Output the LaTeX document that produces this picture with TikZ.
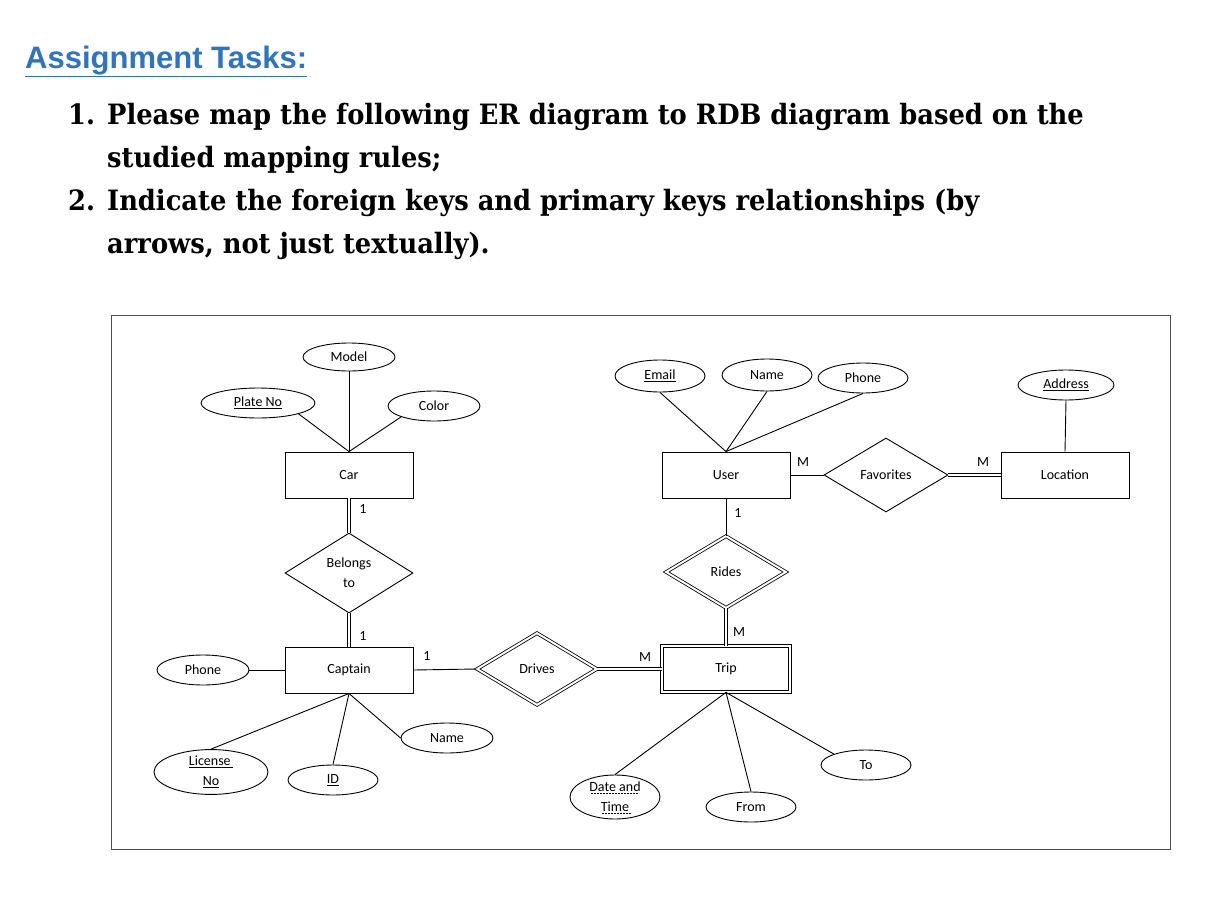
\documentclass[tikz,border=0pt]{standalone}
\usepackage{fontspec}
\setmainfont{Carlito}
\newfontfamily\hdr{Liberation Sans}
\newfontfamily\task{DejaVu Serif}[FakeStretch=0.92]
\usetikzlibrary{shapes.geometric}
\definecolor{hblue}{HTML}{2E74C4}
\begin{document}
\begin{tikzpicture}[x=1pt,y=-1pt,
  ent/.style={draw,line width=0.9pt,minimum width=128pt,minimum height=46pt,font=\fontsize{14}{16}\selectfont},
  att/.style={draw,ellipse,line width=0.9pt,inner sep=0pt,font=\fontsize{14}{16}\selectfont},
  rel/.style={draw,diamond,aspect=1.65,line width=0.9pt,inner sep=0pt,font=\fontsize{14}{16}\selectfont},
  dbl/.style={double,double distance=2pt,line width=0.8pt},
  ln/.style={line width=0.9pt},
  dsh/.style={line width=0.6pt,dash pattern=on 2pt off 1pt},
  card/.style={font=\fontsize{14}{16}\selectfont,inner sep=0pt},
  tl/.style={anchor=base west,inner sep=0pt,font=\task\bfseries\fontsize{28}{34}\selectfont}]
\useasboundingbox (0,0) rectangle (1224,910);
\node[anchor=base west,inner sep=0pt,text=hblue,font=\hdr\bfseries\fontsize{31}{34}\selectfont] (h) at (25,68) {\underline{Assignment Tasks:}};
\node[tl] (n1) at (68,124) {1.};
\node[tl] (l1) at (107,124) {Please map the following ER diagram to RDB diagram based on the};
\node[tl] (l2) at (107,167) {studied mapping rules;};
\node[tl] (n2) at (68,210) {2.};
\node[tl] (l3) at (107,210) {Indicate the foreign keys and primary keys relationships (by};
\node[tl] (l4) at (107,253) {arrows, not just textually).};
\draw[line width=0.8pt,black!70] (111,315) rectangle (1170,849);
% entities
\node[ent] (car) at (349,475) {Car};
\node[ent] (cap) at (349,670) {Captain};
\node[ent] (user) at (726,475) {User};
\node[ent] (loc) at (1065,475) {Location};
\node[ent,dbl,minimum width=128pt,minimum height=46pt] (trip) at (726,669) {Trip};
% relationships
\node[rel,minimum width=128pt,minimum height=80pt,align=center,font=\fontsize{14}{20}\selectfont] (bel) at (349,573) {Belongs\\to};
\node[rel,dbl,minimum width=120pt,minimum height=72pt] (drv) at (537,669) {Drives};
\node[rel,dbl,minimum width=120pt,minimum height=72pt] (rid) at (726,572) {Rides};
\node[rel,minimum width=124pt,minimum height=74pt] (fav) at (886,475) {Favorites};
% attributes
\node[att,minimum width=92pt,minimum height=28pt] (model) at (349,357) {Model};
\node[att,minimum width=114pt,minimum height=30pt] (plate) at (258,403) {\underline{Plate No}};
\node[att,minimum width=92pt,minimum height=30pt] (color) at (434,406) {Color};
\node[att,minimum width=92pt,minimum height=30pt] (cphone) at (203,670) {Phone};
\node[att,minimum width=92pt,minimum height=30pt] (cname) at (447,738) {Name};
\node[att,minimum width=114pt,minimum height=44pt,align=center,font=\fontsize{14}{20}\selectfont] (lic) at (211,772) {\underline{License\,}\\\underline{No}};
\node[att,minimum width=90pt,minimum height=30pt] (id) at (333,780) {\underline{ID}};
\node[att,minimum width=90pt,minimum height=32pt] (email) at (660,376) {\underline{Email}};
\node[att,minimum width=90pt,minimum height=32pt] (uname) at (767,375) {Name};
\node[att,minimum width=90pt,minimum height=30pt] (uphone) at (863,378) {Phone};
\node[att,minimum width=96pt,minimum height=30pt] (addr) at (1066,385) {\underline{Address}};
\node[att,minimum width=90pt,minimum height=44pt,align=center,font=\fontsize{14}{20}\selectfont] (dt) at (615,797) {Date and\\Time};
\draw[dsh] ([xshift=-24pt,yshift=4pt]dt.center) -- ([xshift=24pt,yshift=4pt]dt.center);
\draw[dsh] ([xshift=-13pt,yshift=-16pt]dt.center) -- ([xshift=16pt,yshift=-16pt]dt.center);
\node[att,minimum width=90pt,minimum height=30pt] (from) at (751,807) {From};
\node[att,minimum width=90pt,minimum height=30pt] (to) at (866,765) {To};
% attribute lines
\draw[ln] (car.north) -- (model.south);
\draw[ln] (car.north) -- (plate.south east);
\draw[ln] (car.north) -- (color.south west);
\draw[ln] (cap.west) -- (cphone.east);
\draw[ln] (cap.south) -- (cname.west);
\draw[ln] (cap.south) -- (lic.north);
\draw[ln] (cap.south) -- (id.north);
\draw[ln] (user.north) -- (email.south);
\draw[ln] (user.north) -- (uname.south);
\draw[ln] (user.north) -- (uphone.south);
\draw[ln] (loc.north) -- (addr.south);
\draw[ln] (trip.south) -- (dt.north);
\draw[ln] (trip.south) -- (from.north);
\draw[ln] (trip.south) -- (to.north west);
% relationship lines
\draw[dbl] (car.south) -- (bel.north);
\draw[dbl] (bel.south) -- (cap.north);
\draw[ln] (cap.east) -- (drv.west);
\draw[dbl] (drv.east) -- (trip.west);
\draw[ln] (user.south) -- (rid.north);
\draw[dbl] (rid.south) -- (trip.north);
\draw[ln] (user.east) -- (fav.west);
\draw[dbl] (fav.east) -- (loc.west);
% cardinalities
\node[card] (c1) at (363,509) {1};
\node[card] (c2) at (363,636) {1};
\node[card] (c3) at (427,656) {1};
\node[card] (c4) at (645,657) {M};
\node[card] (c5) at (739,632) {M};
\node[card] (c6) at (738,513) {1};
\node[card] (c7) at (803,462) {M};
\node[card] (c8) at (983,462) {M};
\end{tikzpicture}
\end{document}
